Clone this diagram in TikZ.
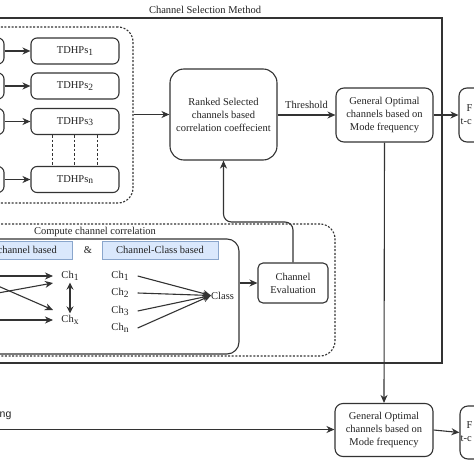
\documentclass[tikz,border=0pt]{standalone}
\usepackage{fontspec}
\setmainfont{Liberation Serif}
\newfontfamily\sansf{Liberation Sans}
\usetikzlibrary{arrows.meta,calc}
\definecolor{ln}{HTML}{333333}
\definecolor{tx}{HTML}{222222}
\definecolor{bfill}{HTML}{DAE8FC}
\definecolor{bline}{HTML}{8AA6CC}
\newcommand{\sbx}[1]{\raisebox{-0.35ex}{\fontsize{9.5}{10}\selectfont #1}}
\begin{document}
\begin{tikzpicture}[x=1pt,y=-1pt,
  every node/.style={text=tx, font=\fontsize{10.5}{13}\selectfont},
  base/.style={draw=ln, line width=1.1pt},
  rbox/.style={base, rounded corners=6pt, align=center, inner sep=0pt},
  grpbox/.style={draw=ln, line width=1.1pt, dash pattern=on 2pt off 1.6pt, rounded corners=15pt, inner sep=0pt},
  arr/.style={draw=ln, line width=1.1pt, -{Stealth[length=8pt,width=7pt,inset=2.5pt]}},
  dbl/.style={draw=ln, line width=1.1pt, {Stealth[length=7pt,width=7pt,inset=2.5pt]}-{Stealth[length=7pt,width=7pt,inset=2.5pt]}},
  dsh/.style={draw=ln, line width=1pt, dash pattern=on 2.5pt off 2pt},
  lab/.style={inner sep=0pt},
  bluebox/.style={draw=bline, fill=bfill, line width=0.8pt, inner sep=0pt, minimum height=18pt},
]
\useasboundingbox (0,0) rectangle (474,474);
\clip (0,0) rectangle (474,474);

% title and outer frame
\node[lab] (title) at (205,10) {Channel Selection Method};
\draw[draw=ln, line width=1.3pt] (-5,18) rectangle (442,363);

% upper dashed group
\node[grpbox, minimum width=163pt, minimum height=176pt] (grp1) at (51.5,115) {};
\foreach \n/\y/\s in {1/51/1, 2/86/2, 3/121.5/3, n/179.5/n}{
  \node[rbox, minimum width=44pt, minimum height=26pt] (l\n) at (-18,\y) {};
  \node[rbox, minimum width=88pt, minimum height=26pt] (t\n) at (75,\y) {TDHPs\sbx{\s}};
  \draw[arr] (l\n.east) -- (t\n.west);
}
\foreach \x in {52,74.5,97}{
  \coordinate (dx) at (\x,0);
  \draw[dsh] (t3.south -| dx) -- (tn.north -| dx);
}

% ranked box
\node[rbox, rounded corners=14pt, minimum width=107pt, minimum height=91pt] (ranked) at (223.5,114.5)
  {Ranked Selected\\channels based\\correlation coeffecient};
\draw[arr] (grp1.east |- ranked.west) -- (ranked.west);

% general optimal 1
\node[rbox, rounded corners=8pt, minimum width=97pt, minimum height=54pt] (go1) at (384.5,115)
  {General Optimal\\channels based on\\Mode frequency};
\draw[arr] (ranked.east |- go1.west) -- node[lab, above=6pt] (thr) {Threshold} (go1.west);
\node[rbox, rounded corners=8pt, minimum width=60pt, minimum height=54pt] (ft1) at (489,115) {};
\node[lab, anchor=west] (ft1a) at (466.5,108) {F};
\node[lab, anchor=west] (ft1b) at (460.5,122) {t-c};
\draw[arr] (go1.east) -- (ft1.west);

% general optimal 2
\node[rbox, rounded corners=8pt, minimum width=98pt, minimum height=53pt] (go2) at (384,430)
  {General Optimal\\channels based on\\Mode frequency};
\draw[arr] (go1.south) -- (go2.north);
\node[rbox, rounded corners=8pt, minimum width=60pt, minimum height=53pt] (ft2) at (490,432.5) {};
\node[lab, anchor=west] (ft2a) at (466.5,425) {F};
\node[lab, anchor=west] (ft2b) at (460.5,439) {t-c};
\draw[arr] (go2.east) -- (ft2.west);
\node[lab, anchor=west, font=\sansf\fontsize{10.5}{13}\selectfont] (ng) at (-0.5,416) {ng};
\coordinate (lin) at (-2,429.5);
\draw[arr] (lin) -- (lin -| go2.west);

% lower dashed group
\node[grpbox, minimum width=365pt, minimum height=132pt] (grp2) at (152.5,290) {};
\node[lab] (cc) at (95,232) {Compute channel correlation};
\node[rbox, rounded corners=12pt, minimum width=269pt, minimum height=115pt] (inner) at (104.5,296.5) {};
\node[bluebox, minimum width=128pt] (bA) at (8,250) {Channel-channel based};
\node[lab] (amp) at (88,250) {\&};
\node[bluebox, minimum width=116pt] (bB) at (160,250) {Channel-Class based};

% channel-channel
\node[lab] (ch1L) at (70,276) {Ch\sbx{1}};
\node[lab] (chxL) at (70,320) {Ch\sbx{x}};
\coordinate (a1) at (-2,276);
\coordinate (a2) at (-2,293);
\coordinate (a3) at (-2,286);
\coordinate (a4) at (-2,320);
\coordinate (e1) at (53,276);
\coordinate (e2) at (53,283);
\coordinate (e3) at (53,310);
\coordinate (e4) at (53,320);
\draw[arr] (a1) -- (e1);
\draw[arr] (a2) -- (e2);
\draw[arr] (a3) -- (e3);
\draw[arr] (a4) -- (e4);
\draw[dbl] ($(ch1L.south)+(0,2)$) -- ($(chxL.north)+(0,-2)$);

% channel-class
\node[lab] (c1) at (120,276) {Ch\sbx{1}};
\node[lab] (c2) at (120,293) {Ch\sbx{2}};
\node[lab] (c3) at (120,311) {Ch\sbx{3}};
\node[lab] (cn) at (120,328) {Ch\sbx{n}};
\node[lab, anchor=west] (cls) at (211,295.5) {Class};
\foreach \c in {c1,c2,c3,cn}{
  \draw[arr] ($(\c.east)+(9,0)$) -- (cls.west);
}

% channel evaluation
\node[rbox, rounded corners=5pt, minimum width=70pt, minimum height=40pt] (ce) at (293,283) {Channel\\Evaluation};
\draw[arr] (inner.east |- ce.west) -- (ce.west);
\coordinate (yr) at (0,222);
\draw[arr, rounded corners=8pt] (ce.north) -- (ce.north |- yr) -- (ranked.south |- yr) -- (ranked.south);
\end{tikzpicture}
\end{document}
